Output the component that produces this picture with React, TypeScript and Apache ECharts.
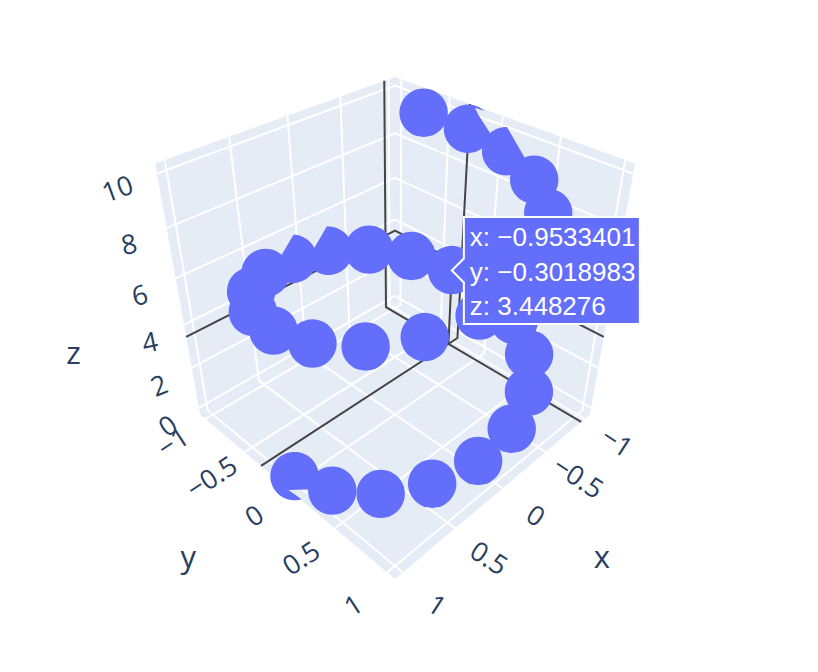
import React, { useEffect, useRef } from "react";
import * as echarts from "echarts";

const xValues = [1, 0.94113, 0.77145, 0.51047, 0.19029, -0.1527, -0.47831, -0.74675, -0.92795, -0.99889, -0.9533401, -0.79516, -0.5434, -0.2276, 0.115, 0.4435, 0.7203, 0.9126, 0.99709, 0.96416, 0.81769, 0.575, 0.2647, -0.077, -0.4095, -0.6936, -0.8964, -0.9935, -0.9736, -0.8391];
const yValues = [0, 0.33804, 0.63629, 0.85989, 0.98173, 0.98827, 0.87819, 0.6651, 0.3727, 0.03814, -0.3018983, -0.6064, -0.8395, -0.9738, -0.9934, -0.8963, -0.6937, -0.4089, -0.07621, 0.26532, 0.57566, 0.8181, 0.9643, 0.997, 0.9123, 0.7204, 0.4433, 0.1143, -0.2283, -0.544];
const zValues = [0, 0.344828, 0.689655, 1.034483, 1.37931, 1.724138, 2.068966, 2.413793, 2.758621, 3.103448, 3.448276, 3.793103, 4.137931, 4.482759, 4.827586, 5.172414, 5.517241, 5.862069, 6.206897, 6.551724, 6.896552, 7.241379, 7.586207, 7.931034, 8.275862, 8.62069, 8.965517, 9.310345, 9.655172, 10];
const xTicks = [1, 0.5, 0, -0.5, -1];
const yTicks = [1, 0.5, 0, -0.5, -1];
const zTicks = [0, 2, 4, 6, 8, 10];
const xTickLabels = ["1", "0.5", "0", "−0.5", "−1"];
const yTickLabels = ["1", "0.5", "0", "−0.5", "−1"];
const zTickLabels = ["0", "2", "4", "6", "8", "10"];
const zTickAngles = [35, 22, 12, 15, 12, 20];
const hoverIndex = 10;
const hoverLines = ["x: −0.9533401", "y: −0.3018983", "z: 3.448276"];

const PAD_XY = 1.07;
const Z_MID = 5;
const Z_HALF = 5.35;
const CX = 395;
const CY = 302;
const K = 848.6;
const D = 5.58;
const S2 = Math.SQRT2;
const S3 = Math.sqrt(3);
const S6 = Math.sqrt(6);

const BLUE = "#636efa";
const WALL = "#e5ecf6";
const INK = "#2a3f5f";
const SPIKE = "#444444";
const R = 24.2;

type V3 = [number, number, number];
const nx = (x: number) => x / PAD_XY;
const nz = (z: number) => (z - Z_MID) / Z_HALF;
// box-normalised -> pixel-space coordinate of the hidden value axes
const project = (p: V3): [number, number] => {
  const [a, b, c] = p;
  const r = (-a + b) / S2;
  const u = (-a - b + 2 * c) / S6;
  const d = D - (a + b + c) / S3;
  return [CX + (K * r) / d, CY - (K * u) / d];
};

const walls: V3[][] = [
  [[-1, -1, -1], [1, -1, -1], [1, 1, -1], [-1, 1, -1]],
  [[-1, -1, -1], [1, -1, -1], [1, -1, 1], [-1, -1, 1]],
  [[-1, -1, -1], [-1, 1, -1], [-1, 1, 1], [-1, -1, 1]],
];

const gridSegs: V3[][] = [];
xTicks.forEach((t) => {
  const a = nx(t);
  gridSegs.push([[a, 1, -1], [a, -1, -1], [a, -1, 1]]);
});
yTicks.forEach((t) => {
  const a = nx(t);
  gridSegs.push([[1, a, -1], [-1, a, -1], [-1, a, 1]]);
});
zTicks.forEach((t) => {
  const a = nz(t);
  gridSegs.push([[1, -1, a], [-1, -1, a], [-1, 1, a]]);
});

const hx = nx(xValues[hoverIndex]);
const hy = nx(yValues[hoverIndex]);
const hz = nz(zValues[hoverIndex]);
const spikeSegs: V3[][] = [
  [[hx, -1, 1], [hx, -1, -1], [hx, 1, -1]],
  [[1, hy, -1], [-1, hy, -1], [-1, hy, 1]],
  [[1, -1, hz], [-1, -1, hz], [-1, 1, hz]],
  [[hx, hy, -1], [hx, hy, hz]],
];

// where the original's depth test bites into a marker: kept arc + inner vertices
const bites: Record<number, { from: number; to: number; pts: [number, number][] }> = {
  0: { from: 73, to: 393, pts: [[-6, 14]] },
  13: { from: -94, to: 170, pts: [[-13.4, -4]] },
  14: { from: -88, to: 170, pts: [[-10.9, -4]] },
  27: { from: 30, to: 272, pts: [[19, 7.3]] },
  28: { from: 15, to: 313, pts: [[7, -21], [10.3, -14], [22, 4.3]] },
};

const polyline = (segs: V3[][], stroke: string) => (params: any, api: any) => {
  const pts = segs[params.dataIndex].map((p) => api.coord(project(p)));
  return {
    type: "polyline",
    shape: { points: pts },
    style: { stroke, lineWidth: 2, fill: "none" },
    silent: true,
  };
};

type Lab = { text: string; p: V3; rot: number; size: number };
const labels: Lab[] = [
  ...xTicks.map((t, i) => ({ text: xTickLabels[i], p: [nx(t), 1.28, -1.03] as V3, rot: -33, size: 27 })),
  ...yTicks.map((t, i) => ({ text: yTickLabels[i], p: [1.28, nx(t), -1.03] as V3, rot: 33, size: 27 })),
  ...zTicks.map((t, i) => {
    const a = nz(t);
    return { text: zTickLabels[i], p: [1.18, -1.18, a - (0.1325 - 0.04 * a)] as V3, rot: zTickAngles[i], size: 27 };
  }),
  { text: "x", p: [0, 1.77, -1], rot: 0, size: 31 },
  { text: "y", p: [1.77, 0, -1], rot: 0, size: 31 },
  { text: "z", p: [1.56, -1.56, -0.42], rot: 0, size: 31 },
];

function buildOption(): any {
  const tip = project([hx, hy, hz]);
  const bx0 = tip[0] + 12;
  const bx1 = tip[0] + 188;
  const by0 = tip[1] - 53;
  const by1 = tip[1] + 54;
  const tipY = tip[1] + 0.5;
  const boxPts = [
    [bx0, by0], [bx1, by0], [bx1, by1], [bx0, by1],
    [bx0, tipY + 12], [tip[0], tipY], [bx0, tipY - 12],
  ];
  return {
    animation: false,
    backgroundColor: "#ffffff",
    tooltip: { show: false },
    grid: { left: 0, right: 0, top: 0, bottom: 0, containLabel: false },
    xAxis: { type: "value", min: 0, max: 818, show: false },
    yAxis: { type: "value", min: 0, max: 672, inverse: true, show: false },
    series: [
      {
        type: "custom",
        name: "walls",
        silent: true,
        data: walls.map((_, i) => [i]),
        renderItem: (params: any, api: any) => ({
          type: "polygon",
          shape: { points: walls[params.dataIndex].map((p) => api.coord(project(p))) },
          style: { fill: WALL },
          silent: true,
        }),
        z: 1,
      },
      {
        type: "custom",
        name: "grid",
        silent: true,
        data: gridSegs.map((_, i) => [i]),
        renderItem: polyline(gridSegs, "#ffffff"),
        z: 2,
      },
      {
        type: "custom",
        name: "spikes",
        silent: true,
        data: spikeSegs.map((_, i) => [i]),
        renderItem: polyline(spikeSegs, SPIKE),
        z: 3,
      },
      {
        type: "custom",
        name: "trace 0",
        silent: true,
        data: xValues.map((x, i) => [x, yValues[i], zValues[i]]),
        renderItem: (params: any, api: any) => {
          const c = api.coord(project([nx(api.value(0)), nx(api.value(1)), nz(api.value(2))]));
          const bite = bites[params.dataIndex];
          if (!bite) {
            return {
              type: "circle",
              shape: { cx: c[0], cy: c[1], r: R },
              style: { fill: BLUE },
              silent: true,
            };
          }
          const pts: number[][] = [];
          for (let a = bite.from; a <= bite.to; a += 4) {
            const t = (a * Math.PI) / 180;
            pts.push([c[0] + R * Math.cos(t), c[1] + R * Math.sin(t)]);
          }
          const t = (bite.to * Math.PI) / 180;
          pts.push([c[0] + R * Math.cos(t), c[1] + R * Math.sin(t)]);
          bite.pts.forEach((o) => pts.push([c[0] + o[0], c[1] + o[1]]));
          return {
            type: "polygon",
            shape: { points: pts },
            style: { fill: BLUE },
            silent: true,
          };
        },
        z: 4,
      },
      {
        type: "custom",
        name: "labels",
        silent: true,
        data: labels.map((_, i) => [i]),
        renderItem: (params: any, api: any) => {
          const l = labels[params.dataIndex];
          const c = api.coord(project(l.p));
          return {
            type: "text",
            x: c[0],
            y: c[1],
            rotation: (l.rot * Math.PI) / 180,
            style: {
              text: l.text,
              fill: INK,
              fontFamily: '"Open Sans", sans-serif',
              fontSize: l.size,
              align: "center",
              verticalAlign: "middle",
            },
            silent: true,
          };
        },
        z: 5,
      },
    ],
    graphic: {
      elements: [
        {
          type: "polygon",
          z: 100,
          silent: true,
          shape: { points: boxPts },
          style: { fill: BLUE, stroke: "#ffffff", lineWidth: 2 },
        },
        ...hoverLines.map((t, i) => ({
          type: "text",
          z: 101,
          silent: true,
          x: tip[0] + 18,
          y: tip[1] - 33 + i * 34.5,
          style: {
            text: t,
            fill: "#ffffff",
            fontFamily: '"Liberation Sans", Arial, sans-serif',
            fontSize: 26,
            align: "left",
            verticalAlign: "middle",
          },
        })),
      ],
    },
  };
}

export default function App() {
  const ref = useRef<HTMLDivElement>(null);
  useEffect(() => {
    const chart = echarts.init(ref.current!, undefined, { renderer: "svg" });
    chart.setOption(buildOption());
    return () => chart.dispose();
  }, []);
  return (
    <div
      ref={ref}
      style={{ position: "absolute", left: 0, top: 0, width: 818, height: 672 }}
    />
  );
}
